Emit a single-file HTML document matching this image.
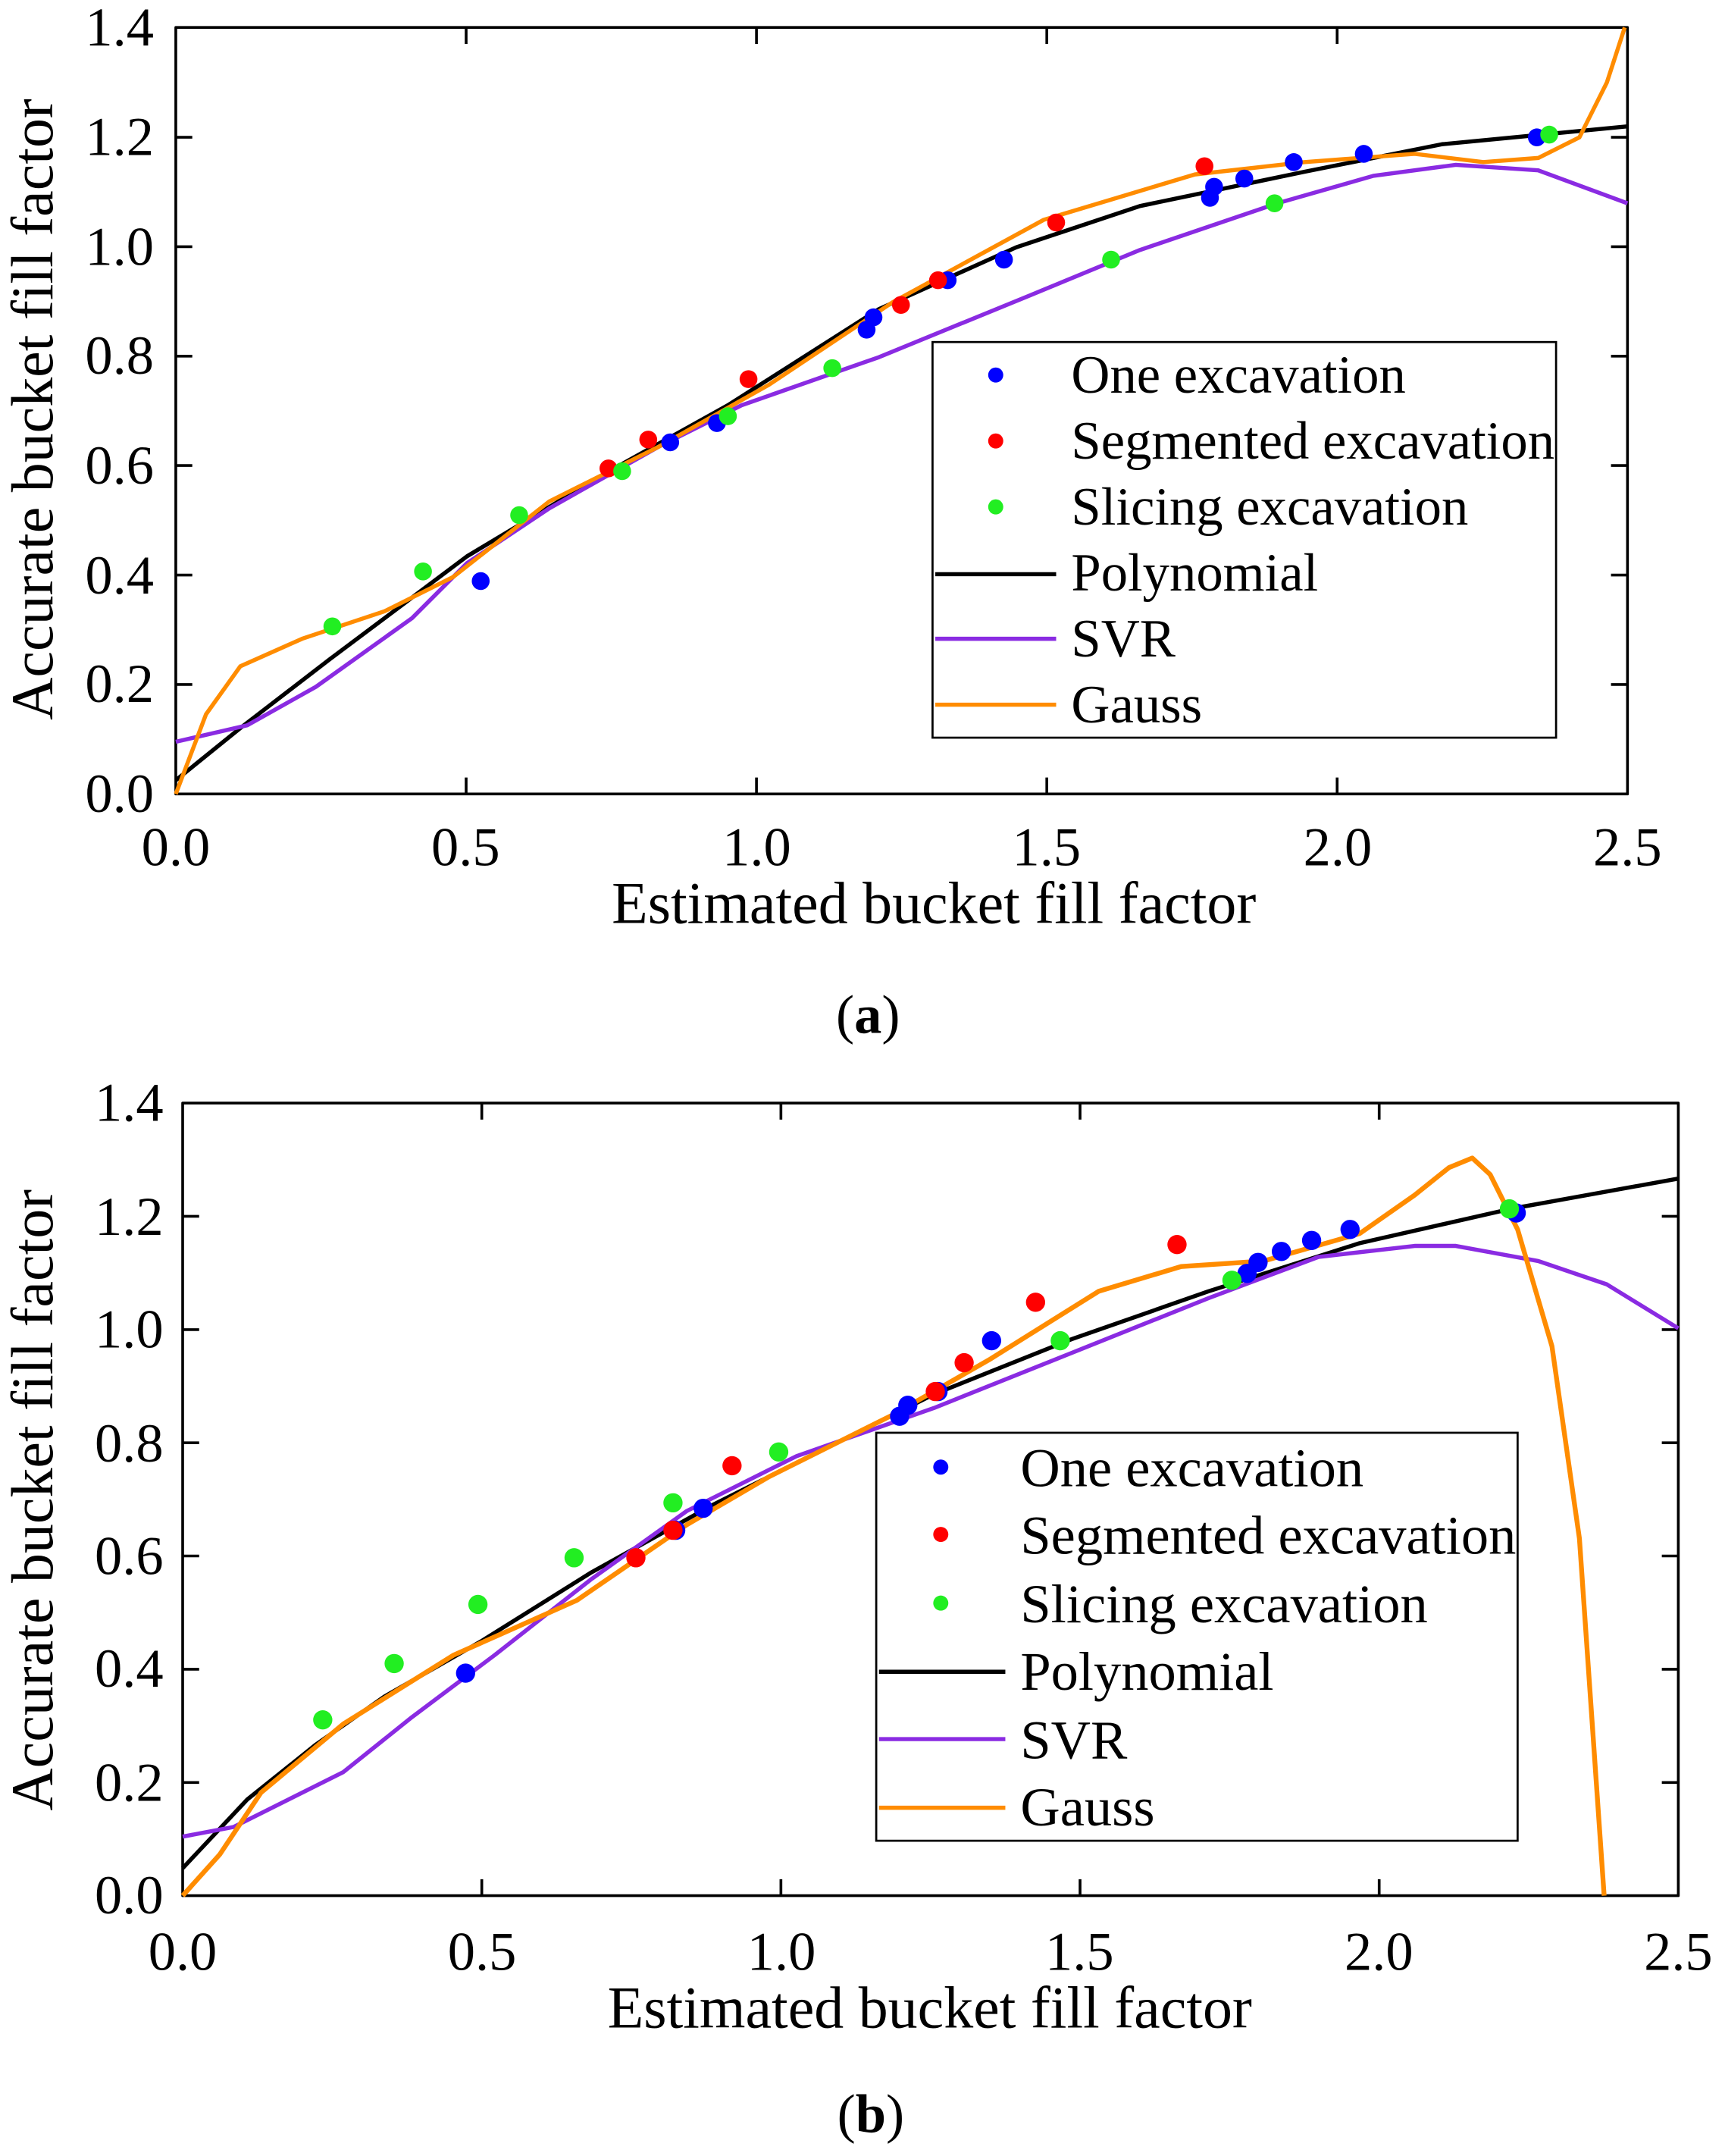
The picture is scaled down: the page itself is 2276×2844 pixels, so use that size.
<!DOCTYPE html>
<html><head><meta charset="utf-8"><style>html,body{margin:0;padding:0;background:#fff}svg{display:block}</style></head>
<body>
<svg width="2276" height="2844" viewBox="0 0 1256 1569.5" preserveAspectRatio="none" xmlns="http://www.w3.org/2000/svg" font-family="Liberation Serif, serif">
<rect width="1256" height="1570" fill="#fff"/>
<!-- Chart A -->
<g fill="none" stroke-linejoin="round">
<rect x="128" y="20" width="1057" height="558" stroke="#000" stroke-width="2"/>
<path d="M128,498.3h12M128,418.6h12M128,338.9h12M128,259.3h12M128,179.6h12M128,99.9h12M1185,498.3h-12M1185,418.6h-12M1185,338.9h-12M1185,259.3h-12M1185,179.6h-12M1185,99.9h-12M339.4,578v-12M550.8,578v-12M762.2,578v-12M973.6,578v-12M339.4,20v12M550.8,20v12M762.2,20v12M973.6,20v12" stroke="#000" stroke-width="2"/>
<polyline stroke="#000" stroke-width="3" points="128,568 175,530 240,480 340,405 440,345 530,295 640,225 740,180 830,150 950,125 1050,105 1185,92"/>
<polyline stroke="#8a2be2" stroke-width="3" points="128,540 180,528 230,500 300,450 340,410 400,370 480,325 540,295 640,260 750,215 830,182 930,148 1000,128 1060,120 1120,124 1185,148"/>
<polyline stroke="#ff8c00" stroke-width="3" points="128,578 150,520 175,485 220,465 280,445 330,420 400,365 480,325 560,280 650,220 760,160 870,127 950,118 1030,112 1080,118 1120,115 1150,100 1170,60 1183,20"/>
</g>
<g stroke-linecap="round" stroke-width="13">
<path stroke="#0000ff" d="M350,423h0M488,322h0M522,308h0M631,240h0M636,231h0M690,204h0M731,189h0M881,144h0M884,136h0M906,130h0M942,118h0M993,112h0M1119,100h0"/>
<path stroke="#ff0000" d="M443,341h0M472,320h0M545,276h0M656,222h0M683,204h0M769,162h0M877,121h0"/>
<path stroke="#22ee22" d="M242,456h0M308,416h0M378,375h0M453,343h0M530,303h0M606,268h0M809,189h0M928,148h0M1128,98h0"/>
</g>
<g font-size="40" text-anchor="end">
<text x="112" y="591">0.0</text><text x="112" y="511">0.2</text><text x="112" y="432">0.4</text><text x="112" y="352">0.6</text><text x="112" y="272">0.8</text><text x="112" y="193">1.0</text><text x="112" y="113">1.2</text><text x="112" y="33">1.4</text>
</g>
<g font-size="40" text-anchor="middle">
<text x="128" y="630">0.0</text><text x="339" y="630">0.5</text><text x="551" y="630">1.0</text><text x="762" y="630">1.5</text><text x="974" y="630">2.0</text><text x="1185" y="630">2.5</text>
<text x="680" y="672" font-size="43">Estimated bucket fill factor</text>
<text transform="translate(38,298) rotate(-90)" font-size="43">Accurate bucket fill factor</text>
<text x="632" y="752" font-size="40">(<tspan font-weight="bold">a</tspan>)</text>
</g>
<rect x="679" y="249" width="454" height="288" fill="#fff" stroke="#000" stroke-width="1.5"/>
<g stroke-linecap="round" stroke-width="11"><path stroke="#0000ff" d="M725,273h0"/><path stroke="#ff0000" d="M725,321h0"/><path stroke="#22ee22" d="M725,369h0"/></g>
<g stroke-width="3"><path stroke="#000" d="M681,418h88"/><path stroke="#8a2be2" d="M681,465h88"/><path stroke="#ff8c00" d="M681,513h88"/></g>
<g font-size="39"><text x="780" y="286">One excavation</text><text x="780" y="334">Segmented excavation</text><text x="780" y="382">Slicing excavation</text><text x="780" y="430">Polynomial</text><text x="780" y="478">SVR</text><text x="780" y="526">Gauss</text></g>

<!-- Chart B -->
<g fill="none" stroke-linejoin="round">
<rect x="133" y="803" width="1089" height="577" stroke="#000" stroke-width="2"/>
<path d="M133,1297.6h12M133,1215.2h12M133,1132.7h12M133,1050.3h12M133,967.9h12M133,885.4h12M1222,1297.6h-12M1222,1215.2h-12M1222,1132.7h-12M1222,1050.3h-12M1222,967.9h-12M1222,885.4h-12M350.8,1380v-12M568.6,1380v-12M786.4,1380v-12M1004.2,1380v-12M350.8,803v12M568.6,803v12M786.4,803v12M1004.2,803v12" stroke="#000" stroke-width="2"/>
<polyline stroke="#000" stroke-width="3" points="133,1360 180,1310 230,1270 280,1235 350,1195 430,1145 520,1095 600,1055 680,1015 780,975 880,940 990,905 1100,880 1222,858"/>
<polyline stroke="#8a2be2" stroke-width="3" points="133,1337 170,1330 210,1310 250,1290 300,1250 360,1205 430,1150 500,1100 580,1060 680,1025 780,985 880,945 960,915 1030,907 1060,907 1120,918 1170,935 1222,967"/>
<polyline stroke="#ff8c00" stroke-width="3.5" points="133,1380 160,1350 190,1305 250,1255 330,1205 420,1165 500,1110 560,1075 650,1030 720,990 800,940 860,922 920,918 990,898 1030,870 1055,850 1072,843 1085,855 1105,895 1130,980 1150,1120 1168,1380"/>
</g>
<g stroke-linecap="round" stroke-width="14">
<path stroke="#0000ff" d="M339,1218h0M492,1114h0M512,1098h0M655,1031h0M661,1023h0M683,1013h0M722,976h0M908,927h0M916,919h0M933,911h0M955,903h0M983,895h0M1104,883h0"/>
<path stroke="#ff0000" d="M463,1134h0M490,1114h0M533,1067h0M681,1013h0M702,992h0M754,948h0M857,906h0"/>
<path stroke="#22ee22" d="M235,1252h0M287,1211h0M348,1168h0M418,1134h0M490,1094h0M567,1057h0M772,976h0M897,932h0M1099,880h0"/>
</g>
<g font-size="40" text-anchor="end">
<text x="119" y="1393">0.0</text><text x="119" y="1311">0.2</text><text x="119" y="1228">0.4</text><text x="119" y="1146">0.6</text><text x="119" y="1064">0.8</text><text x="119" y="981">1.0</text><text x="119" y="899">1.2</text><text x="119" y="816">1.4</text>
</g>
<g font-size="40" text-anchor="middle">
<text x="133" y="1434">0.0</text><text x="351" y="1434">0.5</text><text x="569" y="1434">1.0</text><text x="786" y="1434">1.5</text><text x="1004" y="1434">2.0</text><text x="1222" y="1434">2.5</text>
<text x="677" y="1476" font-size="43">Estimated bucket fill factor</text>
<text transform="translate(38,1092) rotate(-90)" font-size="43">Accurate bucket fill factor</text>
<text x="634" y="1552" font-size="40">(<tspan font-weight="bold">b</tspan>)</text>
</g>
<rect x="638" y="1043" width="467" height="297" fill="#fff" stroke="#000" stroke-width="1.5"/>
<g stroke-linecap="round" stroke-width="11"><path stroke="#0000ff" d="M685,1068h0"/><path stroke="#ff0000" d="M685,1117h0"/><path stroke="#22ee22" d="M685,1167h0"/></g>
<g stroke-width="3"><path stroke="#000" d="M640,1217h92"/><path stroke="#8a2be2" d="M640,1266h92"/><path stroke="#ff8c00" d="M640,1316h92"/></g>
<g font-size="40"><text x="743" y="1082">One excavation</text><text x="743" y="1131">Segmented excavation</text><text x="743" y="1181">Slicing excavation</text><text x="743" y="1230">Polynomial</text><text x="743" y="1280">SVR</text><text x="743" y="1329">Gauss</text></g>
</svg>
</body></html>
